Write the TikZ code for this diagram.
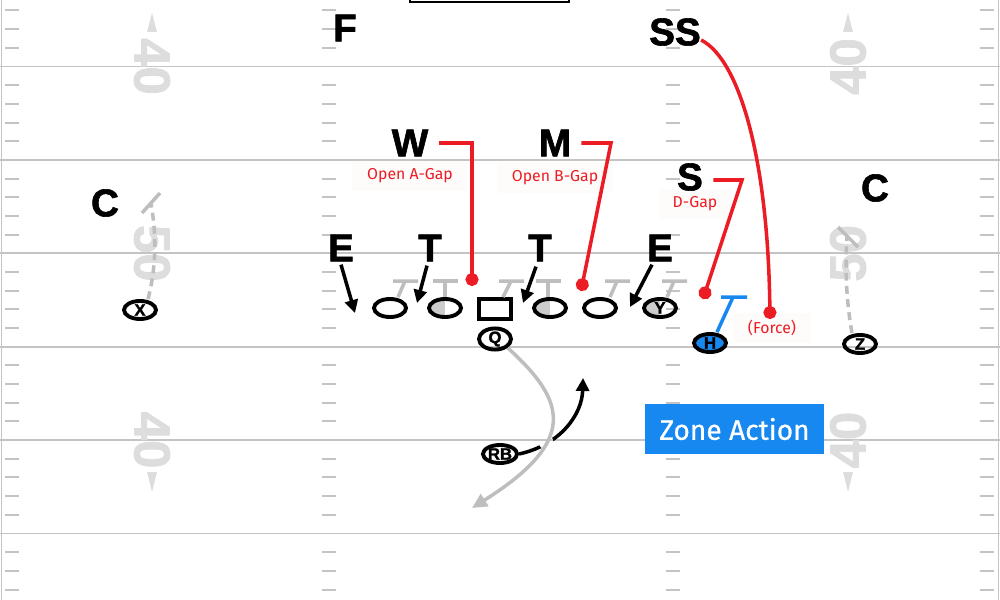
\documentclass[tikz,border=0pt]{standalone}
\usepackage{fontspec}
\setmainfont{Liberation Sans}
\newfontfamily\labelfont{Fira Sans}
\newfontfamily\zonefont{Fira Sans}[FakeBold=0.6]
\newfontfamily\heavyfont{Liberation Sans Bold}[FakeBold=1.6]
\usetikzlibrary{arrows.meta,positioning,calc,shapes.geometric}
\definecolor{fieldgray}{RGB}{196,196,196}
\definecolor{numgray}{RGB}{221,221,221}
\definecolor{routegray}{RGB}{190,190,190}
\definecolor{shadegray}{RGB}{204,204,204}
\definecolor{blitzred}{RGB}{236,28,36}
\definecolor{zoneblue}{RGB}{22,136,240}
\definecolor{labelbg}{RGB}{254,251,251}

\tikzset{
  letter/.style={inner sep=0pt, font=\heavyfont\fontsize{22}{22}\selectfont},
  gaplabel/.style={text=blitzred, fill=labelbg, inner xsep=3mm, inner ysep=1.5mm,
    font=\labelfont\fontsize{9}{9}\selectfont},
  player/.style={ellipse, draw, line width=2.2pt, minimum width=6.4mm, minimum height=3.6mm,
    inner sep=0pt, font=\heavyfont\fontsize{9.5}{9.5}\selectfont},
  centerbox/.style={rectangle, draw, line width=2.2pt, minimum width=6.4mm, minimum height=4mm, inner sep=0pt},
  halfgray/.style={path picture={\fill[shadegray] (path picture bounding box.south west)
    rectangle (path picture bounding box.north);}},
  zonebox/.style={fill=zoneblue, text=white, minimum width=35.8mm, minimum height=10mm, inner sep=0pt,
    font=\zonefont\fontsize{16}{16}\selectfont},
  blitz/.style={blitzred, line width=2pt, -{Circle[length=2.6mm]}},
  run/.style={line width=2pt, -{Triangle[length=2.6mm,width=2.6mm]}},
  block/.style={routegray, line width=2pt},
  route/.style={routegray, line width=2pt, dash pattern=on 4.5pt off 3pt},
  fake/.style={routegray, line width=2pt, -{Triangle[length=3mm,width=2.8mm]}},
  yardline/.style={fieldgray, line width=1.1pt},
  hashmark/.style={fieldgray, line width=1.1pt},
  yardnum/.style={numgray, inner sep=0pt, font=\heavyfont\fontsize{29}{29}\selectfont}
}

\begin{document}
\begin{tikzpicture}[x=0.2mm, y=-0.2mm]
    \def\firstline{66.5} % top yard line
    \def\yardgap{93.4} % spacing of the yard lines
    \def\hashgap{18.68} % spacing of the hash marks

    \useasboundingbox (0,0) rectangle (1000,600);

    % Field lines and hash marks
    \foreach \k in {0,...,5}
        \draw[yardline] (0,\firstline+\k*\yardgap) -- (1000,\firstline+\k*\yardgap);
    \draw[yardline] (1.5,0) -- (1.5,600) (998.5,0) -- (998.5,600);
    \foreach \m in {-3,...,28} {
        \pgfmathtruncatemacro\hashidx{mod(\m+5,5)}
        \ifnum\hashidx>0
            \foreach \hx in {5,322,666,980}
                \draw[hashmark] (\hx,\firstline+\m*\hashgap) -- ++(14,0);
        \fi
    }

    % Yard numbers
    \foreach \i/\yy/\num in {1/66.5/40, 2/253.3/50, 3/440.1/40} {
        \node[yardnum, rotate=-90] (numl\i) at (152,\yy) {\num};
        \node[yardnum, rotate=90] (numr\i) at (848,\yy) {\num};
    }
    \foreach \ax in {152,848} {
        \fill[numgray] (\ax-5,32) -- (\ax+5,32) -- (\ax,13) -- cycle;
        \fill[numgray] (\ax-5,472) -- (\ax+5,472) -- (\ax,492) -- cycle;
    }

    % Box at the top edge
    \draw[line width=1.6pt] (410,-20) rectangle (569,2);

    % Gap labels
    \node[gaplabel] (wlab) at (410,176) {Open A-Gap};
    \node[gaplabel] (mlab) at (555,178) {Open B-Gap};
    \node[gaplabel] (slab) at (695,204) {D-Gap};
    \node[gaplabel] (flab) at (772,328) {(Force)};

    % Defense
    \node[letter] (F) at (345,28) {F};
    \node[letter] (SS) at (675,32) {SS};
    \node[letter] (W) at (410,143) {W};
    \node[letter] (M) at (555,143) {M};
    \node[letter] (S) at (690,177) {S};
    \node[letter] (CL) at (105,203) {C};
    \node[letter] (CR) at (875,188) {C};
    \node[letter] (EL) at (341,248) {E};
    \node[letter] (TL) at (430,248) {T};
    \node[letter] (TR) at (540,248) {T};
    \node[letter] (ER) at (660,248) {E};

    % Offense
    \node[player] (lt) at (390,308) {};
    \node[player, halfgray] (lg) at (445,308) {};
    \node[centerbox] (cn) at (495,309) {};
    \node[player, halfgray] (rg) at (550,308) {};
    \node[player] (rt) at (600,308) {};
    \node[player, halfgray] (te) at (660,308) {Y};
    \node[player] (X) at (140,310) {X};
    \node[player, fill=zoneblue] (H) at (710,343) {H};
    \node[player] (Z) at (860,344) {Z};
    \node[player] (Q) at (495,339) {Q};
    \node[player] (RB) at (500,454) {RB};

    \node[zonebox] (zone) at (734.5,429) {Zone Action};

    % Blocks
    \foreach \n/\sx/\dx in {lt/1.6mm/7, lg/0mm/0, cn/1.6mm/8, rg/-0.4mm/0, rt/2mm/7, te/1.4mm/7}
        \draw[block] ([xshift=\sx]\n.north) -- ++(\dx,-16) ++(-12,0) -- ++(25,0);
    \draw[block, draw=zoneblue] ([xshift=1.4mm]H.north) -- ++(16,-35) ++(-12,0) -- ++(26,0);

    % Receiver routes
    \coordinate (xend) at (151,204);
    \draw[route] ([xshift=1.6mm]X.north) .. controls (157,265) and (156,230) .. (xend);
    \draw[block] ($(xend)+(-9,9)$) -- ($(xend)+(9,-11)$);
    \coordinate (zend) at (847,237);
    \draw[route] ([xshift=-1.6mm]Z.north) .. controls (846,300) and (845,265) .. (zend);
    \draw[block] ($(zend)+(-9,-10)$) -- ($(zend)+(11,10)$);

    % Pressure
    \coordinate (wdot) at (472,286);
    \draw[blitz, shorten <=2mm] (W.east) -| (wdot);
    \coordinate (mturn) at (611,143);
    \coordinate (mdot) at (581,291);
    \draw[blitz, shorten <=2mm] (M.east) -- (mturn) -- (mdot);
    \coordinate (sturn) at (742,180);
    \coordinate (sdot) at (703,299);
    \draw[blitz, shorten <=2mm] ([yshift=-0.6mm]S.east) -- (sturn) -- (sdot);
    \coordinate (ssdot) at (770,319);
    \draw[blitz] ([yshift=-1.6mm]SS.east) .. controls (740,60) and (768,160) .. (ssdot);

    % Line movement
    \coordinate (elend) at (355,313);
    \draw[run] ([yshift=-0.6mm]EL.south) -- (elend);
    \coordinate (tlend) at (417,303);
    \draw[run] ([xshift=-0.6mm,yshift=-0.8mm]TL.south) -- (tlend);
    \coordinate (trend) at (523,303);
    \draw[run] ([xshift=-0.8mm,yshift=-1mm]TR.south) -- (trend);
    \coordinate (erend) at (630,307);
    \draw[run] ([xshift=-1.6mm,yshift=-0.6mm]ER.south) -- (erend);

    % Backfield
    \coordinate (rbend) at (583,378);
    \begin{scope}[even odd rule]
        \clip (0,0) rectangle (1000,600) (546,442) circle (1.5mm);
        \draw[run] (RB.east) .. controls (560,445) and (582,415) .. (rbend);
    \end{scope}
    \coordinate (qend) at (472,508);
    \draw[fake] (Q.south east) .. controls (565,400) and (580,440) .. (qend);
\end{tikzpicture}
\end{document}
